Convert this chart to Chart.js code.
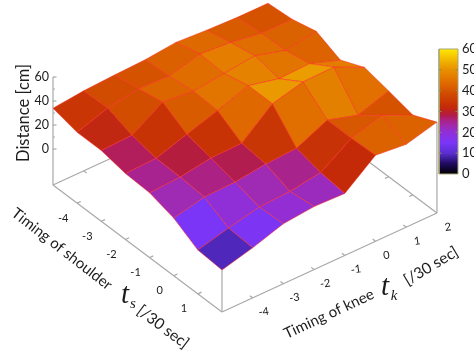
<!DOCTYPE html>
<html>
<head>
<meta charset="utf-8">
<style>
  html, body { margin: 0; padding: 0; background: #fff; }
  canvas { display: block; }
</style>
<script src="https://cdn.jsdelivr.net/npm/chart.js@4"></script>
</head>
<body>
<canvas id="surface" width="474" height="351"></canvas>
<script>
// Valores
const tsValues = [-5, -4, -3, -2, -1, 0, 1, 2];
const tkValues = [-5, -4, -3, -2, -1, 0, 1, 2];
const tsTicks = [-4, -3, -2, -1, 0, 1];
const tkTicks = [-4, -3, -2, -1, 0, 1, 2];
const zTicks = [0, 20, 40, 60];
const zMinorTicks = [10, 30, 50];
const cbTicks = [0, 10, 20, 30, 40, 50, 60];

// uma linha por ts, uma coluna por tk
const distance = [
  [34, 36.7, 38, 39, 41.7, 40, 39, 39],
  [29, 37.5, 41.7, 40.5, 47, 45, 40.8, 40.8],
  [29, 30, 45.8, 43, 46, 49, 41.7, 45.8],
  [25, 25.8, 34, 42, 51, 45, 45.8, 37],
  [24, 25.4, 29.4, 30, 51, 57.5, 58, 46],
  [18, 23.8, 24.5, 27.7, 29, 40.8, 33, 41.4],
  [6.5, 13, 18.7, 20, 24, 40.8, 48, 36.5],
  [5, 11.7, 20, 22.5, 21.7, 41.7, 39, 45.8]
];

const paletteStops = [
  [0, '#000000'], [5, '#200a60'], [10, '#5a2ed0'], [15, '#7a35f8'], [20, '#902ed8'],
  [23, '#a02ab0'], [26, '#ac2080'], [28.5, '#b41c40'], [32, '#c42a08'], [38, '#d04800'],
  [44, '#e06c00'], [50, '#e89000'], [54, '#f0b000'], [60, '#ffe800']
];

// Projecao 3D -> plano do grafico
const zFloor = -30;
function project(ts, tk, z) {
  const i = ts + 5, j = tk + 5;
  return {
    x: 53 + 24.14 * i + 30.71 * j,
    y: 185 + 18.14 * i - 14.14 * j - (z - zFloor) * 1.2
  };
}

// Barra de cores: valor -> pixel
const cbLeft = 439, cbRight = 458, cbTop = 49, cbBottom = 174;
function cbY(v) {
  return cbBottom - (v / 60) * (cbBottom - cbTop);
}

function hexToRgb(h) {
  return [1, 3, 5].map(k => parseInt(h.substr(k, 2), 16));
}

function paletteColor(v) {
  for (let k = 1; k < paletteStops.length; k++) {
    if (v <= paletteStops[k][0]) {
      const a = paletteStops[k - 1], b = paletteStops[k];
      const t = (v - a[0]) / (b[0] - a[0]);
      const ca = hexToRgb(a[1]), cb = hexToRgb(b[1]);
      const c = ca.map((n, m) => Math.round(n + (cb[m] - n) * t));
      return 'rgb(' + c.join(',') + ')';
    }
  }
  return paletteStops[paletteStops.length - 1][1];
}

const axisColor = '#a8a8a8';
const datasets = [];

// Os ultimos adicionados ficam por cima
function addShape(points, opts) {
  datasets.push(Object.assign({
    data: points,
    showLine: true,
    tension: 0,
    pointRadius: 0,
    borderColor: axisColor,
    borderWidth: 1.2,
    fill: false,
    clip: false,
    order: 100000 - datasets.length
  }, opts || {}));
}

const tsMin = tsValues[0], tsMax = tsValues[tsValues.length - 1];
const tkMin = tkValues[0], tkMax = tkValues[tkValues.length - 1];

// Base da caixa
addShape([project(tsMin, tkMin, zFloor), project(tsMin, tkMax, zFloor)]);
addShape([project(tsMin, tkMax, zFloor), project(tsMax, tkMax, zFloor)]);
addShape([project(tsMin, tkMin, zFloor), project(tsMax, tkMin, zFloor)]);
addShape([project(tsMax, tkMin, zFloor), project(tsMax, tkMax, zFloor)]);

// Marcas dos eixos
tsValues.slice(1, -1).forEach(t => {
  addShape([project(t, tkMin, zFloor), project(t, tkMin + 0.12, zFloor)]);
  addShape([project(t, tkMax, zFloor), project(t, tkMax - 0.12, zFloor)]);
});
tkValues.slice(1, -1).forEach(t => {
  addShape([project(tsMax, t, zFloor), project(tsMax - 0.12, t, zFloor)]);
  addShape([project(tsMin, t, zFloor), project(tsMin + 0.12, t, zFloor)]);
});

// Eixo z e verticais dos cantos
addShape([project(tsMin, tkMin, zFloor), project(tsMin, tkMin, 60)]);
addShape([project(tsMax, tkMin, zFloor), project(tsMax, tkMin, distance[7][0])]);
addShape([project(tsMax, tkMax, zFloor), project(tsMax, tkMax, distance[7][7])]);
zTicks.forEach(z => {
  const p = project(tsMin, tkMin, z);
  addShape([p, { x: p.x + 3.5, y: p.y }]);
});
zMinorTicks.forEach(z => {
  const p = project(tsMin, tkMin, z);
  addShape([p, { x: p.x + 2, y: p.y }]);
});

// Superficie, de tras para a frente
for (let i = 0; i < tsValues.length - 1; i++) {
  for (let j = tkValues.length - 2; j >= 0; j--) {
    const corners = [[i, j], [i, j + 1], [i + 1, j + 1], [i + 1, j]];
    const mean = corners.reduce((s, c) => s + distance[c[0]][c[1]], 0) / 4;
    const pts = corners.map(c => project(tsValues[c[0]], tkValues[c[1]], distance[c[0]][c[1]]));
    pts.push(pts[0]);
    addShape(pts, {
      fill: 'shape',
      backgroundColor: paletteColor(mean),
      borderColor: 'rgba(255,40,30,0.5)',
      borderWidth: 1
    });
  }
}

// Barra de cores
const gradCtx = document.createElement('canvas').getContext('2d');
const cbGradient = gradCtx.createLinearGradient(0, cbBottom, 0, cbTop);
paletteStops.forEach(s => cbGradient.addColorStop(s[0] / 60, s[1]));
addShape([
  { x: cbLeft, y: cbY(0) }, { x: cbRight, y: cbY(0) },
  { x: cbRight, y: cbY(60) }, { x: cbLeft, y: cbY(60) }, { x: cbLeft, y: cbY(0) }
], { fill: 'shape', backgroundColor: cbGradient, borderColor: '#a9a77a', borderWidth: 1 });
cbTicks.slice(1, -1).forEach(v => {
  addShape([{ x: cbLeft, y: cbY(v) }, { x: cbLeft + 2.5, y: cbY(v) }], { borderColor: '#8a8a60', borderWidth: 1 });
  addShape([{ x: cbRight - 2.5, y: cbY(v) }, { x: cbRight, y: cbY(v) }], { borderColor: '#8a8a60', borderWidth: 1 });
});

// Textos
const labelFont = 'Lato, sans-serif';
const mathFont = '"Liberation Serif", serif';
const textColor = '#1c1c1c';

const textLabels = {
  id: 'textLabels',
  afterDraw(chart) {
    const ctx = chart.ctx;
    const sx = chart.scales.x, sy = chart.scales.y;

    function put(text, x, y, font, angle, align) {
      ctx.save();
      ctx.translate(sx.getPixelForValue(x), sy.getPixelForValue(y));
      ctx.rotate((angle || 0) * Math.PI / 180);
      ctx.font = font;
      ctx.fillStyle = textColor;
      ctx.textAlign = align || 'center';
      ctx.textBaseline = 'middle';
      ctx.fillText(text, 0, 0);
      ctx.restore();
    }

    zTicks.forEach(z => {
      const p = project(tsMin, tkMin, z);
      put(String(z), p.x - 4, p.y, '12.5px ' + labelFont, 0, 'right');
    });
    tsTicks.forEach(t => {
      const p = project(t, tkMin, zFloor);
      put(String(t), p.x - 14, p.y + 15, '11px ' + labelFont, 0);
    });
    tkTicks.forEach(t => {
      const p = project(tsMax, t, zFloor);
      put(String(t), p.x + 11, p.y + 14, '11px ' + labelFont, -8);
    });
    cbTicks.forEach(v => {
      put(String(v), 462, cbY(v), '13px ' + labelFont, 0, 'left');
    });

    put('Distance [cm]', 24, 113, '16.5px ' + labelFont, -90);
    put('Timing of shoulder', 62, 249, '15px ' + labelFont, 38);
    put('t', 125, 295, 'italic 29px ' + mathFont, 0);
    put('s', 133, 304, 'italic 15px ' + mathFont, 0);
    put('[/30 sec]', 163, 327, '15.5px ' + labelFont, 37);
    put('Timing of knee', 329, 314, '15px ' + labelFont, -25);
    put('t', 385, 287, 'italic 29px ' + mathFont, 0);
    put('k', 394, 296, 'italic 15px ' + mathFont, 0);
    put('[/30 sec]', 431, 266, '15.5px ' + labelFont, -31);
  }
};

new Chart(document.getElementById('surface'), {
  type: 'scatter',
  data: { datasets: datasets },
  options: {
    responsive: false,
    animation: false,
    layout: { padding: 0 },
    plugins: { legend: { display: false }, tooltip: { enabled: false } },
    scales: {
      x: { type: 'linear', min: 0, max: 474, display: false },
      y: { type: 'linear', min: 0, max: 351, reverse: true, display: false }
    }
  },
  plugins: [textLabels]
});
</script>
</body>
</html>
